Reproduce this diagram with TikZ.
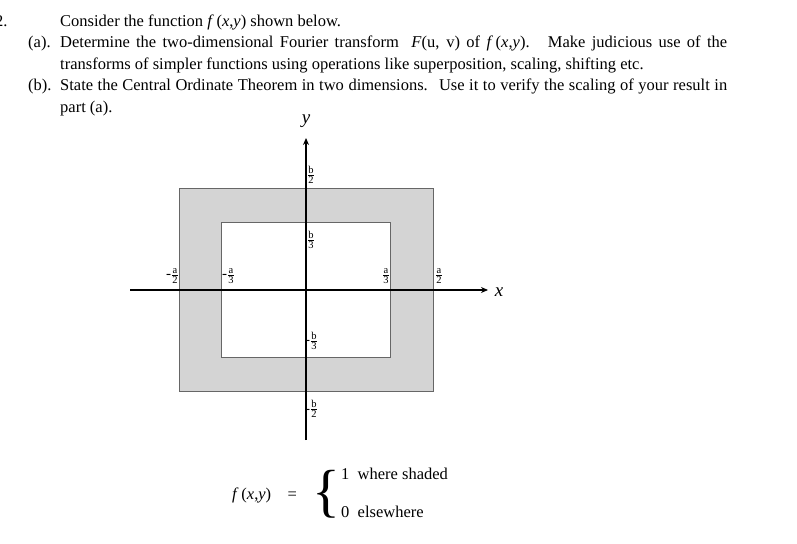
\documentclass[tikz,border=0pt]{standalone}
\usepackage{fontspec}
\setmainfont{Liberation Serif}
\usetikzlibrary{arrows.meta}
\begin{document}
\begin{tikzpicture}[x=1pt,y=-1pt,
  txt/.style={anchor=west,inner sep=0pt,font=\fontsize{16.5}{21.5}\selectfont},
  lab/.style={inner sep=0pt,font=\fontsize{15}{15}\selectfont},
  ax/.style={line width=1.2pt,-{Stealth[length=7pt,width=6pt]}}]
\useasboundingbox (0,0) rectangle (797,543);
\node[txt] (n0) at (-5,21) {2.};
\node[txt] (t1) at (60,22) {Consider the function \textit{f}\,(\textit{x},\textit{y}) shown below.};
\node[txt,anchor=north west] (la) at (28,36) {(a).};
\node[txt,anchor=north west,text width=667pt,align=justify] (pa) at (60,36) {Determine the two-dimensional Fourier transform \ \textit{F}(u, v) of \textit{f}\,(\textit{x},\textit{y}). \ Make judicious use of the\linebreak transforms of simpler functions using operations like superposition, scaling, shifting etc.};
\node[txt,anchor=north west] (lb) at (28,79) {(b).};
\node[txt,anchor=north west,text width=667pt,align=justify] (pb) at (60,79) {State the Central Ordinate Theorem in two dimensions. \ Use it to verify the scaling of your result in\linebreak part (a).};
\fill[black!17] (179,188) rectangle (433,391);
\draw[black!60,line width=0.8pt] (179,188) rectangle (433,391);
\fill[white] (221,222) rectangle (390,357);
\draw[black!60,line width=0.8pt] (221,222) rectangle (390,357);
\coordinate (xs) at (130,290); \coordinate (xe) at (488,290);
\coordinate (ys) at (306,440); \coordinate (ye) at (306,138);
\draw[ax] (xs) -- (xe);
\draw[ax] (ys) -- (ye);
\node[font=\itshape\fontsize{19}{19}\selectfont] (xl) at (499,292) {x};
\node[font=\itshape\fontsize{19}{19}\selectfont] (yl) at (306,121) {y};
\node[lab,anchor=west] (b2) at (307,175) {$\frac{\mathrm b}{\mathrm 2}$};
\node[lab,anchor=west] (b3) at (307,240) {$\frac{\mathrm b}{\mathrm 3}$};
\node[lab,anchor=west] (mb3) at (305,341) {-$\frac{\mathrm b}{\mathrm 3}$};
\node[lab,anchor=west] (mb2) at (305,409) {-$\frac{\mathrm b}{\mathrm 2}$};
\node[lab,anchor=east] (ma2) at (179,276) {-$\frac{\mathrm a}{\mathrm 2}$};
\node[lab,anchor=west] (ma3) at (222,276) {-$\frac{\mathrm a}{\mathrm 3}$};
\node[lab,anchor=east] (a3) at (390,276) {$\frac{\mathrm a}{\mathrm 3}$};
\node[lab,anchor=west] (a2) at (435,276) {$\frac{\mathrm a}{\mathrm 2}$};
\node[txt] (fx) at (232,495) {\textit{f}\,(\textit{x},\textit{y}) \ \ \ =};
\node[font=\fontsize{58}{58}\selectfont,inner sep=0pt] (br) at (326,494) {\{};
\node[txt] (c1) at (341,474) {1 \ where shaded};
\node[txt] (c2) at (341,512) {0 \ elsewhere};
\end{tikzpicture}
\end{document}
